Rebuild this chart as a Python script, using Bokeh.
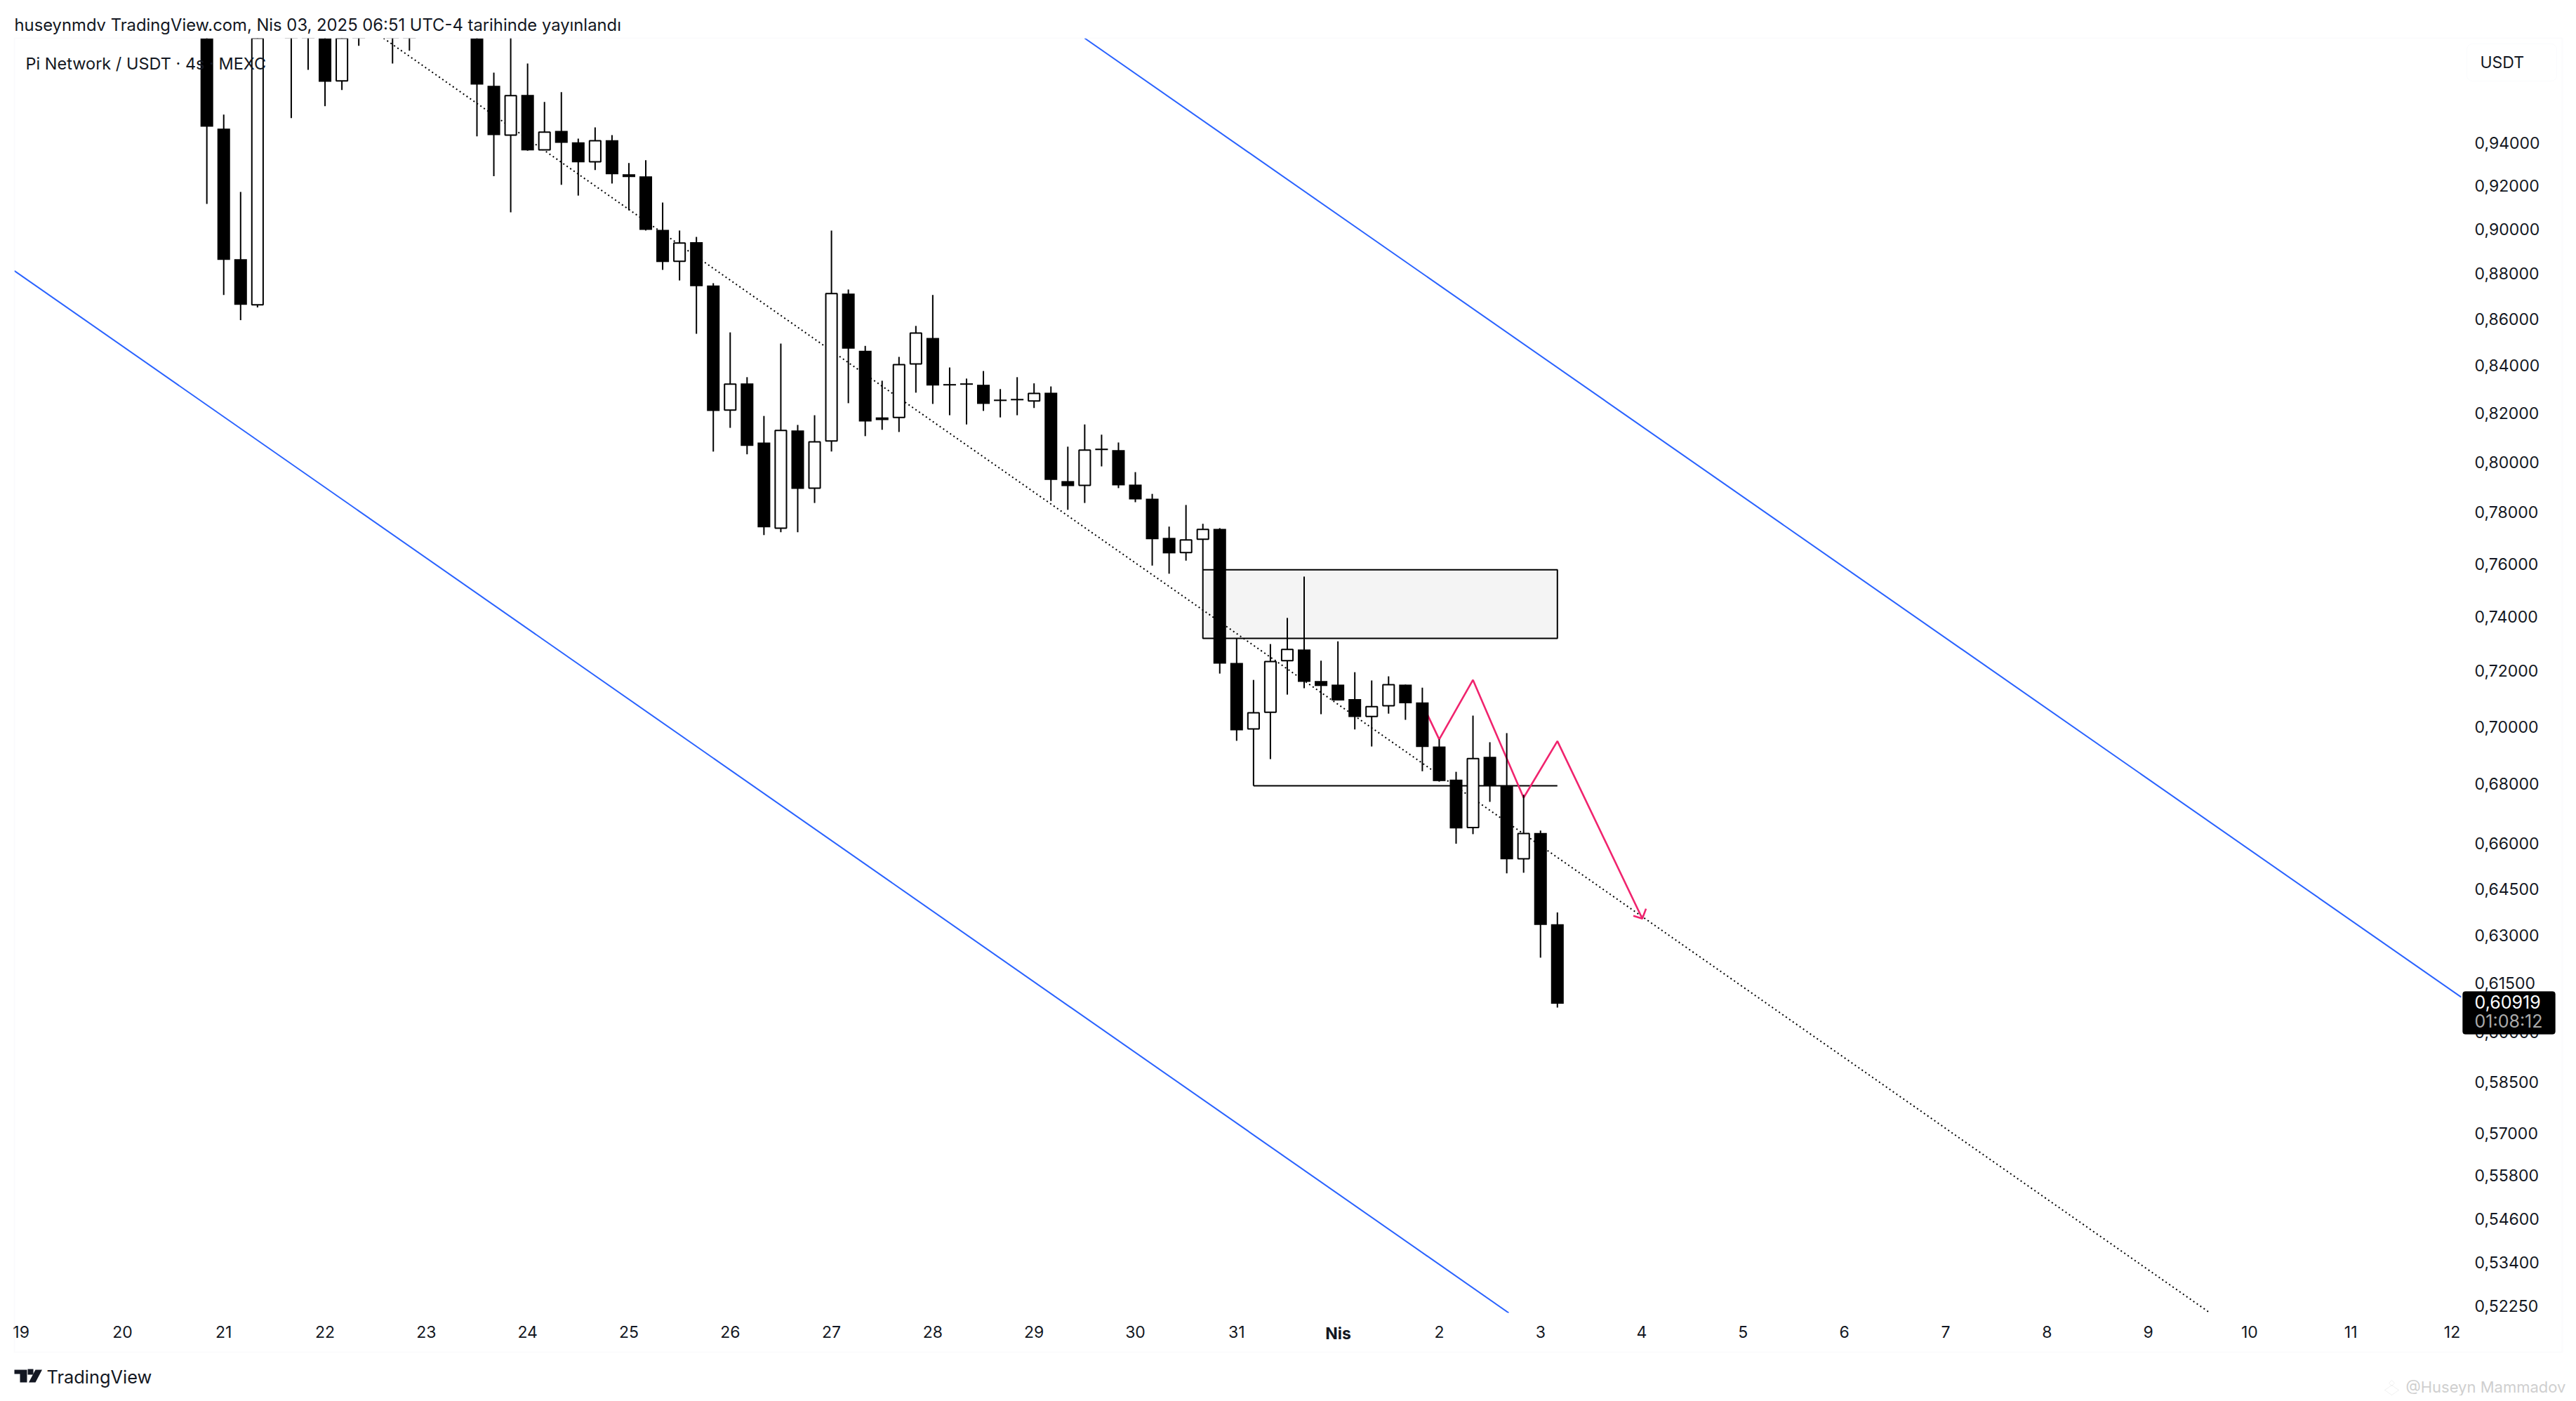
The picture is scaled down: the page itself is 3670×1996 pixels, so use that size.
from bokeh.plotting import figure
from bokeh.models import Range1d, FixedTicker, Label, BoxAnnotation, PolyAnnotation
from bokeh.embed import file_html
from bokeh.resources import INLINE

# ---- data: bar index counts 4h bars from 20 March 00:00 ----
candle_i = [5, 6, 7, 8, 10, 11, 12, 13, 14, 16, 17, 21, 22, 23, 24, 25, 26, 27, 28, 29, 30, 31, 32, 33, 34,
            35, 36, 37, 38, 39, 40, 41, 42, 43, 44, 45, 46, 47, 48, 49, 50, 51, 52, 53, 54, 55, 56, 57, 58, 59,
            60, 61, 62, 63, 64, 65, 66, 67, 68, 69, 70, 71, 72, 73, 74, 75, 76, 77, 78, 79, 80, 81, 82, 83, 84, 85]
opens = [1.03, .9468, .8864, .8662, 1.04, 1.04, 1.03, .9699, 1.04, 1.04, 1.04, 1.03, .9675, .9437, .9630, .9367, .9457,
         .9403, .9311, .9413, .9252, .9242, .8996, .8854, .8940,
         .8747, .8213, .8325, .8080, .7738, .8129, .7896, .8086, .8711, .8463, .8183, .8183, .8407, .8518,
         .8322, .8325, .8319, .8257, .8260, .8251, .8286, .7924, .7907, .8055, .8049,
         .7910, .7854, .7700, .7643, .7695, .7735, .7229, .6992, .7051, .7237, .7278, .7163, .7150, .7098,
         .7036, .7074, .7150, .7086, .6930, .6815, .6652, .6894, .6794, .6548, .6634, .6335]
highs = [1.05, .9535, .9170, 1.05, 1.05, 1.05, 1.05, 1.05, 1.05, 1.05, 1.05, 1.05, .9739, 1.05, .9784, .9596, .9644,
         .9420, .9474, .9437, .9305, .9318, .9121, .8993, .8964,
         .8757, .8542, .8351, .8189, .8494, .8152, .8192, .8993, .8729, .8484, .8336, .8437, .8570, .8705,
         .8392, .8345, .8377, .8301, .8351, .8325, .8312, .8063, .8154, .8112, .8080,
         .7960, .7873, .7744, .7829, .7755, .7738, .7319, .7167, .7298, .7395, .7551, .7237, .7308, .7195,
         .7165, .7180, .7150, .7139, .6955, .6842, .7039, .6945, .6977, .6763, .6642, .6373]
lows = [.9115, .8705, .8595, .8650, .9518, .9753, .9576, .9654, .9872, .9784, .9848, .9431, .9243, .9076, .9363, .9366, .9203,
        .9153, .9272, .9209, .9085, .8993, .8816, .8769, .8536,
        .8043, .8140, .8032, .7711, .7722, .7722, .7837, .8043, .8242, .8106, .8132, .8123, .8286, .8239,
        .8192, .8154, .8210, .8183, .8192, .8222, .7845, .7810, .7837, .7983, .7896,
        .7840, .7593, .7562, .7612, .7577, .7190, .6950, .6794, .6886, .7114, .7137, .7044, .7093, .6990,
        .6930, .7046, .7024, .6844, .6808, .6598, .6630, .6739, .6500, .6502, .6229, .6074]
closes = [.9477, .8861, .8662, 1.03, 1.01, 1.01, .9695, 1.03, 1.01, 1.01, 1.01, .9681, .9437, .9627, .9364, .9451, .9400,
          .9308, .9410, .9252, .9239, .8996, .8851, .8936, .8744,
          .8210, .8322, .8066, .7741, .8129, .7893, .8083, .8711, .8472, .8166, .8172, .8404, .8539, .8316,
          .8316, .8319, .8239, .8251, .8254, .8283, .7929, .7904, .8049, .8049, .7907,
          .7851, .7695, .7640, .7692, .7733, .7226, .6987, .7049, .7234, .7278, .7160, .7145, .7093, .7034,
          .7071, .7150, .7083, .6928, .6810, .6649, .6888, .6794, .6546, .6632, .6333, .6086]

price_ticks = [.94, .92, .90, .88, .86, .84, .82, .80, .78, .76, .74, .72, .70, .68, .66, .645, .63, .615, .60,
               .585, .57, .558, .546, .534, .5225]
price_labels = ["0,94000", "0,92000", "0,90000", "0,88000", "0,86000", "0,84000", "0,82000", "0,80000", "0,78000",
                "0,76000", "0,74000", "0,72000", "0,70000", "0,68000", "0,66000", "0,64500", "0,63000", "0,61500",
                "0,60000", "0,58500", "0,57000", "0,55800", "0,54600", "0,53400", "0,52250"]
time_ticks = [-6, 0, 6, 12, 18, 24, 30, 36, 42, 48, 54, 60, 66, 72, 78, 84, 90, 96, 102, 108, 114, 120, 126, 132, 138]
time_labels = ["19", "20", "21", "22", "23", "24", "25", "26", "27", "28", "29", "30", "31", "", "2", "3", "4", "5",
               "6", "7", "8", "9", "10", "11", "12"]

channel_upper_x, channel_upper_y = [57.0, 138.54], [.9910, .6106]
channel_lower_x, channel_lower_y = [-6.40, 82.12], [.8812, .5206]
dotted_x, dotted_y = [15.47, 123.66], [.9910, .5206]
zig_x = [77.03, 78.0, 80.0, 83.0, 85.0, 90.03]
zig_y = [.7077, .6955, .7167, .6753, .6949, .6353]
arrow_x = [89.5, 90.03, 90.25]
arrow_y = [.6362, .6353, .6385]
zone_left, zone_right, zone_top, zone_bottom = 64, 85, .7577, .7319
level_x, level_y = [67, 85], [.6794, .6794]

FONT = "Inter"
TXT = "#131722"
PINK = "#f0246e"
W, H = 3662, 1988

p = figure(width=W, height=H, output_backend="svg", toolbar_location=None,
           y_axis_type="log", y_axis_location="right",
           x_range=Range1d(-6.40, 138.54), y_range=Range1d(.5206, .9910),
           min_border_left=20, min_border_top=54, min_border_right=156, min_border_bottom=118,
           background_fill_color="white", border_fill_color="white", outline_line_color=None)
p.grid.visible = False

ya = p.yaxis[0]
ya.ticker = FixedTicker(ticks=price_ticks)
ya.major_label_overrides = dict(zip(price_ticks, price_labels))
xa = p.xaxis[0]
xa.ticker = FixedTicker(ticks=time_ticks)
xa.major_label_overrides = dict(zip(time_ticks, time_labels))
for ax in (xa, ya):
    ax.axis_line_color = None
    ax.major_tick_line_color = None
    ax.minor_tick_line_color = None
    ax.major_tick_out = 0
    ax.major_tick_in = 0
    ax.major_label_text_font = FONT
    ax.major_label_text_font_size = "23px"
    ax.major_label_text_color = TXT
ya.major_label_standoff = 19
xa.major_label_standoff = 18

p.quad(left=[zone_left], right=[zone_right], top=[zone_top], bottom=[zone_bottom],
       fill_color="#f4f4f4", line_color="black", line_width=2)
p.line(channel_upper_x, channel_upper_y, line_color="#2962ff", line_width=2)
p.line(channel_lower_x, channel_lower_y, line_color="#2962ff", line_width=2)
p.line(dotted_x, dotted_y, line_color="black", line_width=2, line_dash="2 4")
p.line(level_x, level_y, line_color="black", line_width=2)
p.line(zig_x, zig_y, line_color=PINK, line_width=2.6)
p.line(arrow_x, arrow_y, line_color=PINK, line_width=2.6)

p.segment(candle_i, highs, candle_i, lows, line_color="black", line_width=2)
up = [k for k in range(len(candle_i)) if closes[k] > opens[k]]
down = [k for k in range(len(candle_i)) if closes[k] <= opens[k]]
p.vbar([candle_i[k] for k in down], width=0.75, top=[opens[k] for k in down], bottom=[closes[k] for k in down],
       fill_color="black", line_color=None)
p.vbar([candle_i[k] for k in up], width=0.67, top=[closes[k] for k in up], bottom=[opens[k] for k in up],
       fill_color="white", line_color="black", line_width=2)

# transparent layer over the whole page for the chrome that lies outside the plot frame
o = figure(width=W, height=H, output_backend="svg", toolbar_location=None,
           x_axis_type=None, y_axis_type=None, x_range=Range1d(0, W), y_range=Range1d(H, 0),
           min_border=0, background_fill_color=None, border_fill_color=None, outline_line_color=None,
           styles={"position": "absolute", "left": "0px", "top": "0px", "z-index": "5"})
o.grid.visible = False


def label(x, y, text, size, color=TXT, style="normal", align="left"):
    o.add_layout(Label(x=x, y=y, x_units="canvas", y_units="canvas", text=text, text_font=FONT,
                       text_font_size=f"{size}px", text_color=color, text_font_style=style,
                       text_align=align, text_baseline="middle"))


def poly(xs, ys, fill=None, line=None, width=1):
    o.add_layout(PolyAnnotation(xs=xs, ys=ys, xs_units="canvas", ys_units="canvas",
                                fill_color=fill, fill_alpha=1 if fill else 0, line_color=line, line_width=width))


def box(l, r, t, b, fill, line, radius):
    o.add_layout(BoxAnnotation(left=l, right=r, top=t, bottom=b,
                               left_units="canvas", right_units="canvas", top_units="canvas", bottom_units="canvas",
                               fill_color=fill, fill_alpha=1, line_color=line, line_width=1, border_radius=radius))


# outer frame
poly([20, 3650, 3650, 20], [54, 54, 1926, 1926], line="#f1f3f6", width=2)

# header and legend
label(20, 35, "huseynmdv TradingView.com, Nis 03, 2025 06:51 UTC-4 tarihinde yayınlandı", 23.8)
label(36, 90, "Pi Network / USDT · 4s · MEXC", 23.5)

# currency box
box(3514, 3642, 62, 115, "white", "#f0f3fa", 8)
label(3533, 88, "USDT", 23)

# last price tag
box(3508, 3640, 1412, 1473, "black", "black", 4)
label(3525, 1427, "0,60919", 25, color="white")
label(3525, 1454, "01:08:12", 25, color="#aaaaaa")

# bold month label on the time axis
label(1906, 1899, "Nis", 23, style="bold", align="center")

# TradingView logo and wordmark
poly([20, 38, 38, 28, 28, 20], [1951, 1951, 1969, 1969, 1957, 1957], fill="#131722")
poly([39, 47, 47, 39], [1950, 1950, 1958, 1958], fill="#131722")
poly([50, 59.5, 50, 40.5], [1951, 1951, 1969, 1969], fill="#131722")
label(66, 1961, "TradingView", 25.4)

# watermark
poly([3407, 3411, 3407, 3403], [1966, 1970, 1974, 1970], line="#cccccc")
poly([3407, 3417, 3407, 3397], [1973, 1980, 1987, 1980], line="#cccccc")
label(3427, 1975, "@Huseyn Mammadov", 22, color="#cfcfcf")

open("out.html", "w").write(file_html([p, o], INLINE))
